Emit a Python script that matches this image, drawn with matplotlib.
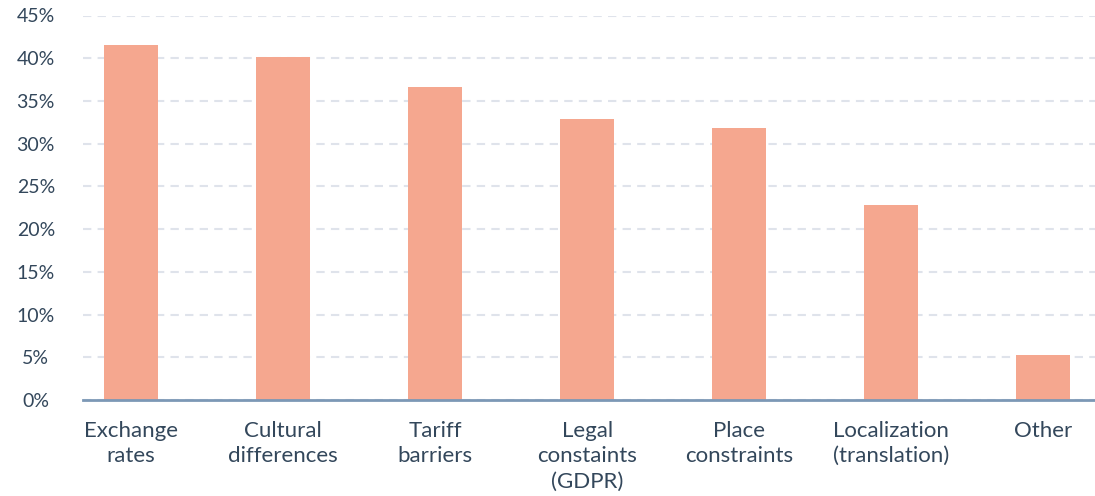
import matplotlib.pyplot as plt
import numpy as np

categories = ['Exchange\nrates', 'Cultural\ndifferences', 'Tariff\nbarriers',
              'Legal\nconstaints\n(GDPR)', 'Place\nconstraints',
              'Localization\n(translation)', 'Other']
values = [41.5, 40.1, 36.6, 32.9, 31.8, 22.8, 5.3]
yticks = [0, 5, 10, 15, 20, 25, 30, 35, 40, 45]

text_color = '#33475b'
bar_color = '#f5a78f'

plt.rcParams['font.family'] = ['Lato', 'DejaVu Sans']

fig = plt.figure(figsize=(10.95, 4.96), dpi=100)
ax = fig.add_axes([83/1095, 1-400/496, 1-83/1095, (400-15.5)/496])

x = np.arange(len(categories))
ax.bar(x, values, width=0.355, color=bar_color, zorder=3)

ax.set_xlim(-0.316, 6.34)
ax.set_ylim(0, 45)
ax.set_yticks(yticks)
ax.set_yticklabels([f'{t}%' for t in yticks], fontsize=14, color=text_color, ha='center')
ax.set_xticks(x)
ax.set_xticklabels(categories, fontsize=16, color=text_color, linespacing=1.33)
ax.tick_params(axis='y', length=0, pad=34)
ax.tick_params(axis='x', length=0, pad=15)

ax.yaxis.grid(True, color='#dfe3eb', linestyle=(0, (4, 3)), linewidth=1.5, zorder=0)
for s in ['top', 'right', 'left']:
    ax.spines[s].set_visible(False)
ax.spines['bottom'].set_color('#7c98b6')
ax.spines['bottom'].set_linewidth(2)
ax.spines['bottom'].set_zorder(4)

fig.savefig('out.png', dpi=100)
